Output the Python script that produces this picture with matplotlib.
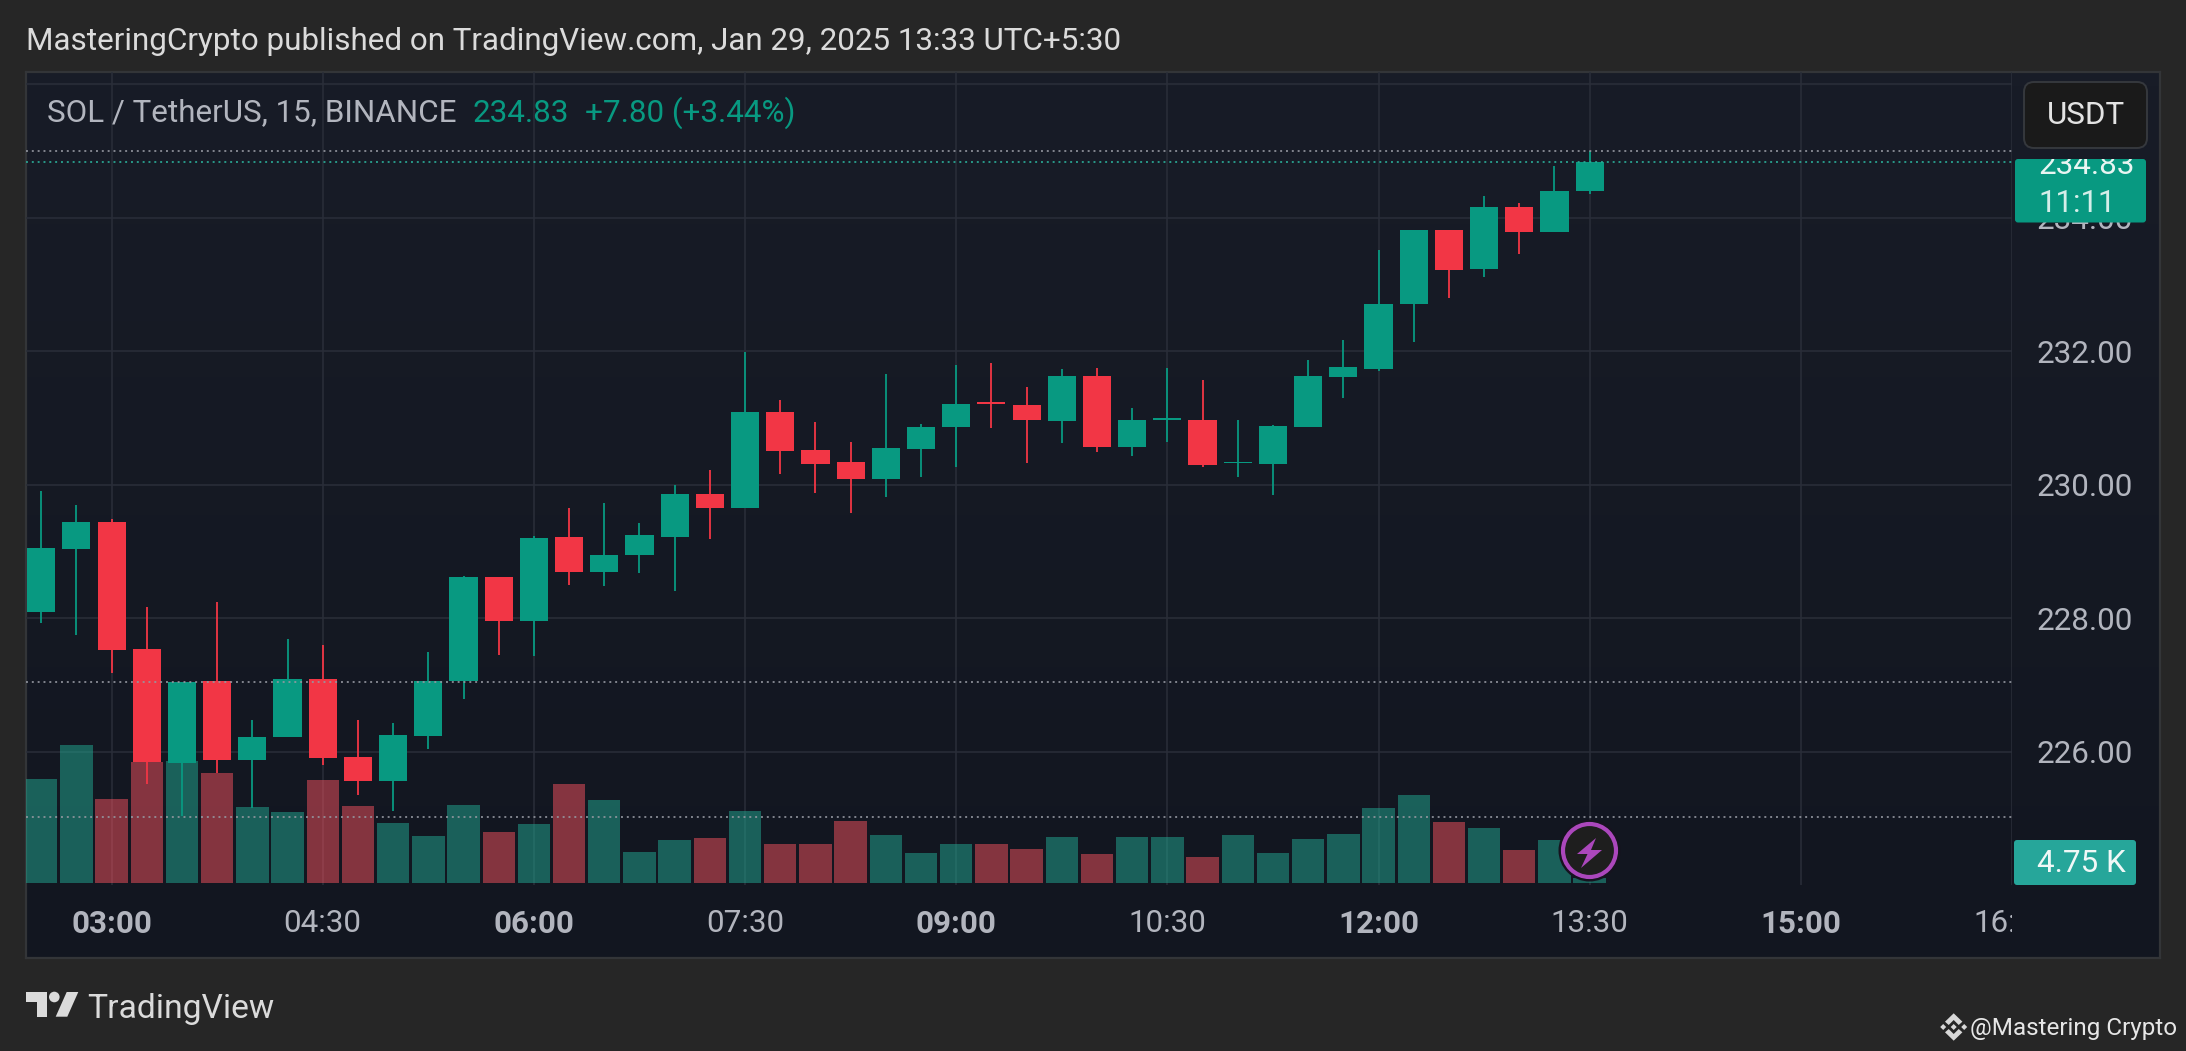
import matplotlib
matplotlib.use("Agg")
import matplotlib.pyplot as plt
import numpy as np
from matplotlib.colors import LinearSegmentedColormap
from matplotlib.patches import Circle, FancyBboxPatch, Polygon, Rectangle
from matplotlib.transforms import Affine2D

W, H = 2186, 1051

UP = "#089981"
DOWN = "#F23645"
VOL_UP = "#22ab94"
VOL_DOWN = "#f7525f"
TEXT = "#b2b5be"
GRID = "#2a2e39"

# ---------- Data ----------

OPENS = [
    228.09, 229.04, 229.44, 227.54, 225.83, 227.06, 225.88, 226.22, 227.09, 225.92,
    225.56, 226.24, 227.06, 228.62, 227.96, 229.22, 228.69, 228.94, 229.22, 229.86,
    229.65, 231.09, 230.52, 230.34, 230.08, 230.54, 230.87, 231.22, 231.19, 230.95,
    231.63, 230.56, 230.97, 230.97, 230.32, 230.31, 230.87, 231.61, 231.73, 232.71,
    233.82, 233.23, 234.16, 233.79, 234.40,
]
HIGHS = [
    229.90, 229.70, 229.49, 228.17, 227.04, 228.24, 226.47, 227.69, 227.60, 226.47,
    226.43, 227.49, 228.63, 228.62, 229.23, 229.65, 229.73, 229.43, 230.00, 230.22,
    231.99, 231.27, 230.94, 230.64, 231.66, 230.91, 231.79, 231.82, 231.46, 231.73,
    231.74, 231.15, 231.74, 231.57, 230.97, 230.89, 231.86, 232.17, 233.52, 233.82,
    233.82, 234.33, 234.22, 234.77, 234.99,
]
LOWS = [
    227.93, 227.75, 227.18, 225.52, 225.04, 225.68, 225.16, 226.22, 225.80, 225.35,
    225.11, 226.04, 226.79, 227.45, 227.43, 228.50, 228.48, 228.68, 228.41, 229.19,
    229.65, 230.16, 229.88, 229.58, 229.81, 230.11, 230.26, 230.85, 230.33, 230.62,
    230.49, 230.43, 230.64, 230.27, 230.12, 229.84, 230.87, 231.30, 231.70, 232.14,
    232.80, 233.11, 233.46, 233.79, 234.36,
]
CLOSES = [
    229.05, 229.44, 227.52, 225.85, 227.04, 225.88, 226.22, 227.09, 225.91, 225.56,
    226.25, 227.06, 228.62, 227.96, 229.20, 228.69, 228.95, 229.25, 229.86, 229.65,
    231.09, 230.50, 230.31, 230.08, 230.55, 230.86, 231.21, 231.21, 230.97, 231.63,
    230.56, 230.97, 230.98, 230.30, 230.34, 230.88, 231.63, 231.76, 232.71, 233.82,
    233.22, 234.16, 233.79, 234.40, 234.83,
]
VOLUMES = [
    104, 138, 84, 121, 122, 110, 76, 71, 103, 77,
    60, 47, 78, 51, 59, 99, 83, 31, 43, 45,
    72, 39, 39, 62, 48, 30, 39, 39, 34, 46,
    29, 46, 46, 26, 48, 30, 44, 49, 75, 88,
    61, 55, 33, 43, 4.75,
]

TIME_TICKS = [2, 8, 14, 20, 26, 32, 38, 44, 50, 56]
TIME_LABELS = ["03:00", "04:30", "06:00", "07:30", "09:00", "10:30", "12:00", "13:30", "15:00", "16:30"]
BOLD_LABELS = ["03:00", "06:00", "09:00", "12:00", "15:00"]
PRICE_GRID = [226, 228, 230, 232, 234, 236]
PRICE_TICKS = [226, 228, 230, 232, 234]

LAST_PRICE = 234.83
HIGH_LINE = 234.99
MID_LINE = 227.05
LOW_LINE = 225.02

# ---------- Figure ----------

fig = plt.figure(figsize=(W / 100, H / 100), dpi=100, facecolor="#262626")
plt.rcParams["font.family"] = ["Roboto", "DejaVu Sans"]
px = Affine2D().scale(1 / W, -1 / H).translate(0, 1) + fig.transFigure


def rect_for(left, top, right, bottom):
    return [left / W, 1 - bottom / H, (right - left) / W, (bottom - top) / H]


# pane background with the whole price scale
bg = fig.add_axes(rect_for(26, 72, 2160, 958), zorder=0)
cmap = LinearSegmentedColormap.from_list("pane", ["#181c27", "#121620"])
bg.imshow(np.linspace(0, 1, 64).reshape(-1, 1), aspect="auto", cmap=cmap)
bg.set_xticks([])
bg.set_yticks([])
for spine in bg.spines.values():
    spine.set_color("#333538")
    spine.set_linewidth(1.6)

plot_rect = rect_for(26, 72, 2012, 958)
ax = fig.add_axes(plot_rect, zorder=1)
ax.patch.set_visible(False)
ax.set_xlim(-0.432, 56.0)
ax.set_ylim(222.91, 236.18)
for spine in ax.spines.values():
    spine.set_visible(False)

ax.hlines(PRICE_GRID, -0.432, 56.0, color=GRID, lw=1.4, alpha=0.8)
ax.vlines(TIME_TICKS, 224.0, 236.18, color=GRID, lw=1.4, alpha=0.8)

ax.yaxis.tick_right()
ax.set_yticks(PRICE_TICKS)
ax.set_yticklabels([f"{p:.2f}" for p in PRICE_TICKS], fontsize=22.6, color=TEXT)
ax.tick_params(axis="y", length=0, pad=18)
ax.set_xticks([])

label_y = 1 - (924 - 72) / (958 - 72)
for tick, text in zip(TIME_TICKS, TIME_LABELS):
    ax.text(tick, label_y, text, transform=ax.get_xaxis_transform(),
            fontsize=22.6, color=TEXT, ha="center", va="center",
            fontweight="bold" if text in BOLD_LABELS else "normal", clip_on=True)

# volume under the candles
bars = np.arange(len(CLOSES))
up = [c >= o for o, c in zip(OPENS, CLOSES)]
colors = [UP if u else DOWN for u in up]
vol_colors = [VOL_UP if u else VOL_DOWN for u in up]

ax_vol = fig.add_axes(plot_rect, sharex=ax, zorder=2)
ax_vol.axis("off")
ax_vol.set_ylim(-75, 811)
ax_vol.bar(bars, VOLUMES, width=0.92, color=vol_colors, alpha=0.5, linewidth=0)
ax_vol.set_xlim(-0.432, 56.0)

# candles
ax_px = fig.add_axes(plot_rect, sharex=ax, sharey=ax, zorder=3)
ax_px.axis("off")
ax_px.vlines(bars, LOWS, HIGHS, color=colors, lw=1.3)
bottoms = [min(o, c) for o, c in zip(OPENS, CLOSES)]
heights = [max(abs(c - o), 0.025) for o, c in zip(OPENS, CLOSES)]
ax_px.bar(bars, heights, bottom=bottoms, width=0.8, color=colors, linewidth=0)

for level in (HIGH_LINE, MID_LINE, LOW_LINE):
    ax_px.axhline(level, color="#9598a1", lw=1.4, ls=(0, (1, 2)), alpha=0.85)
ax_px.axhline(LAST_PRICE, color="#2aa693", lw=1.4, ls=(0, (1, 2)), alpha=0.9)
ax_px.set_xlim(-0.432, 56.0)
ax_px.set_ylim(222.91, 236.18)


def add(patch, zorder=10):
    patch.set_transform(px)
    patch.set_zorder(zorder)
    fig.add_artist(patch)
    return patch


def label(x, y, s, size, color, ha="left", weight="normal", zorder=11):
    return fig.text(x, y, s, transform=px, fontsize=size, color=color, ha=ha, va="center",
                    fontweight=weight, zorder=zorder)


# ---------- Header and footer ----------

label(26, 42, "MasteringCrypto published on TradingView.com, Jan 29, 2025 13:33 UTC+5:30", 22.6, "#dbdbdb")
label(47, 113, "SOL / TetherUS, 15, BINANCE", 22.6, TEXT)
label(473, 113, "234.83", 22.6, UP)
label(585, 113, "+7.80 (+3.44%)", 22.6, UP)
label(87, 1009, "TradingView", 24.2, "#dbdbdb")
label(1970, 1029, "@Mastering Crypto", 17.5, "#e6e6e6")

# TradingView logo
add(Polygon([(26, 992), (46.7, 992), (46.7, 1016.7), (37.3, 1016.7), (37.3, 1002), (26, 1002)],
            facecolor="#dbdbdb", linewidth=0))
add(Circle((54.3, 997), 5.3, facecolor="#dbdbdb", linewidth=0))
add(Polygon([(66.7, 992), (78.3, 992), (67.3, 1016.7), (55.7, 1016.7)], facecolor="#dbdbdb", linewidth=0))

# small diamond logo next to the handle
lx, ly = 1953.7, 1027
for dx in (-10.5, 0, 10.5):
    add(Polygon([(lx + dx - 3, ly), (lx + dx, ly - 3), (lx + dx + 3, ly), (lx + dx, ly + 3)],
                facecolor="#d8d8d8", linewidth=0))
for sign in (-1, 1):
    add(Polygon([(lx, ly + sign * 13.7), (lx + 8.7, ly + sign * 5.3), (lx + 5, ly + sign * 2),
                 (lx, ly + sign * 7), (lx - 5, ly + sign * 2), (lx - 8.7, ly + sign * 5.3)],
                facecolor="#d8d8d8", linewidth=0))

# ---------- Price scale tags ----------

add(FancyBboxPatch((2024, 82), 123, 66, boxstyle="round,pad=0,rounding_size=10",
                   facecolor="#1a1a1a", edgecolor="#35383d", linewidth=1.4))
label(2086, 116, "USDT", 22.6, "#e3e3e3", ha="center")

add(FancyBboxPatch((2015, 159), 131, 63.5, boxstyle="round,pad=0,rounding_size=3",
                   facecolor="#089981", linewidth=0))
clip = Rectangle((2015, 159), 131, 63.5, transform=px)
price_txt = label(2038, 166, f"{LAST_PRICE:.2f}", 22.6, "#e8f5f2")
price_txt.set_clip_path(clip)
label(2038, 203, "11:11", 22.6, "#d5eee9")

add(FancyBboxPatch((2014, 840), 122, 45, boxstyle="round,pad=0,rounding_size=3",
                   facecolor="#26a69a", linewidth=0))
label(2126, 864, "4.75 K", 22.6, "#f0f8f7", ha="right")

# ---------- Lightning badge ----------

add(Circle((1589.5, 850.5), 31, facecolor="#16131f", linewidth=0))
add(Circle((1589.5, 850.5), 26.5, facecolor="#1e1e1e", edgecolor="#ab47bc", linewidth=3))
add(Polygon([(1596, 838), (1577, 854), (1587.5, 854), (1581, 868), (1602, 850), (1591, 850)],
            facecolor="#ab47bc", linewidth=0))

fig.savefig("out.png", dpi=100, facecolor=fig.get_facecolor())
